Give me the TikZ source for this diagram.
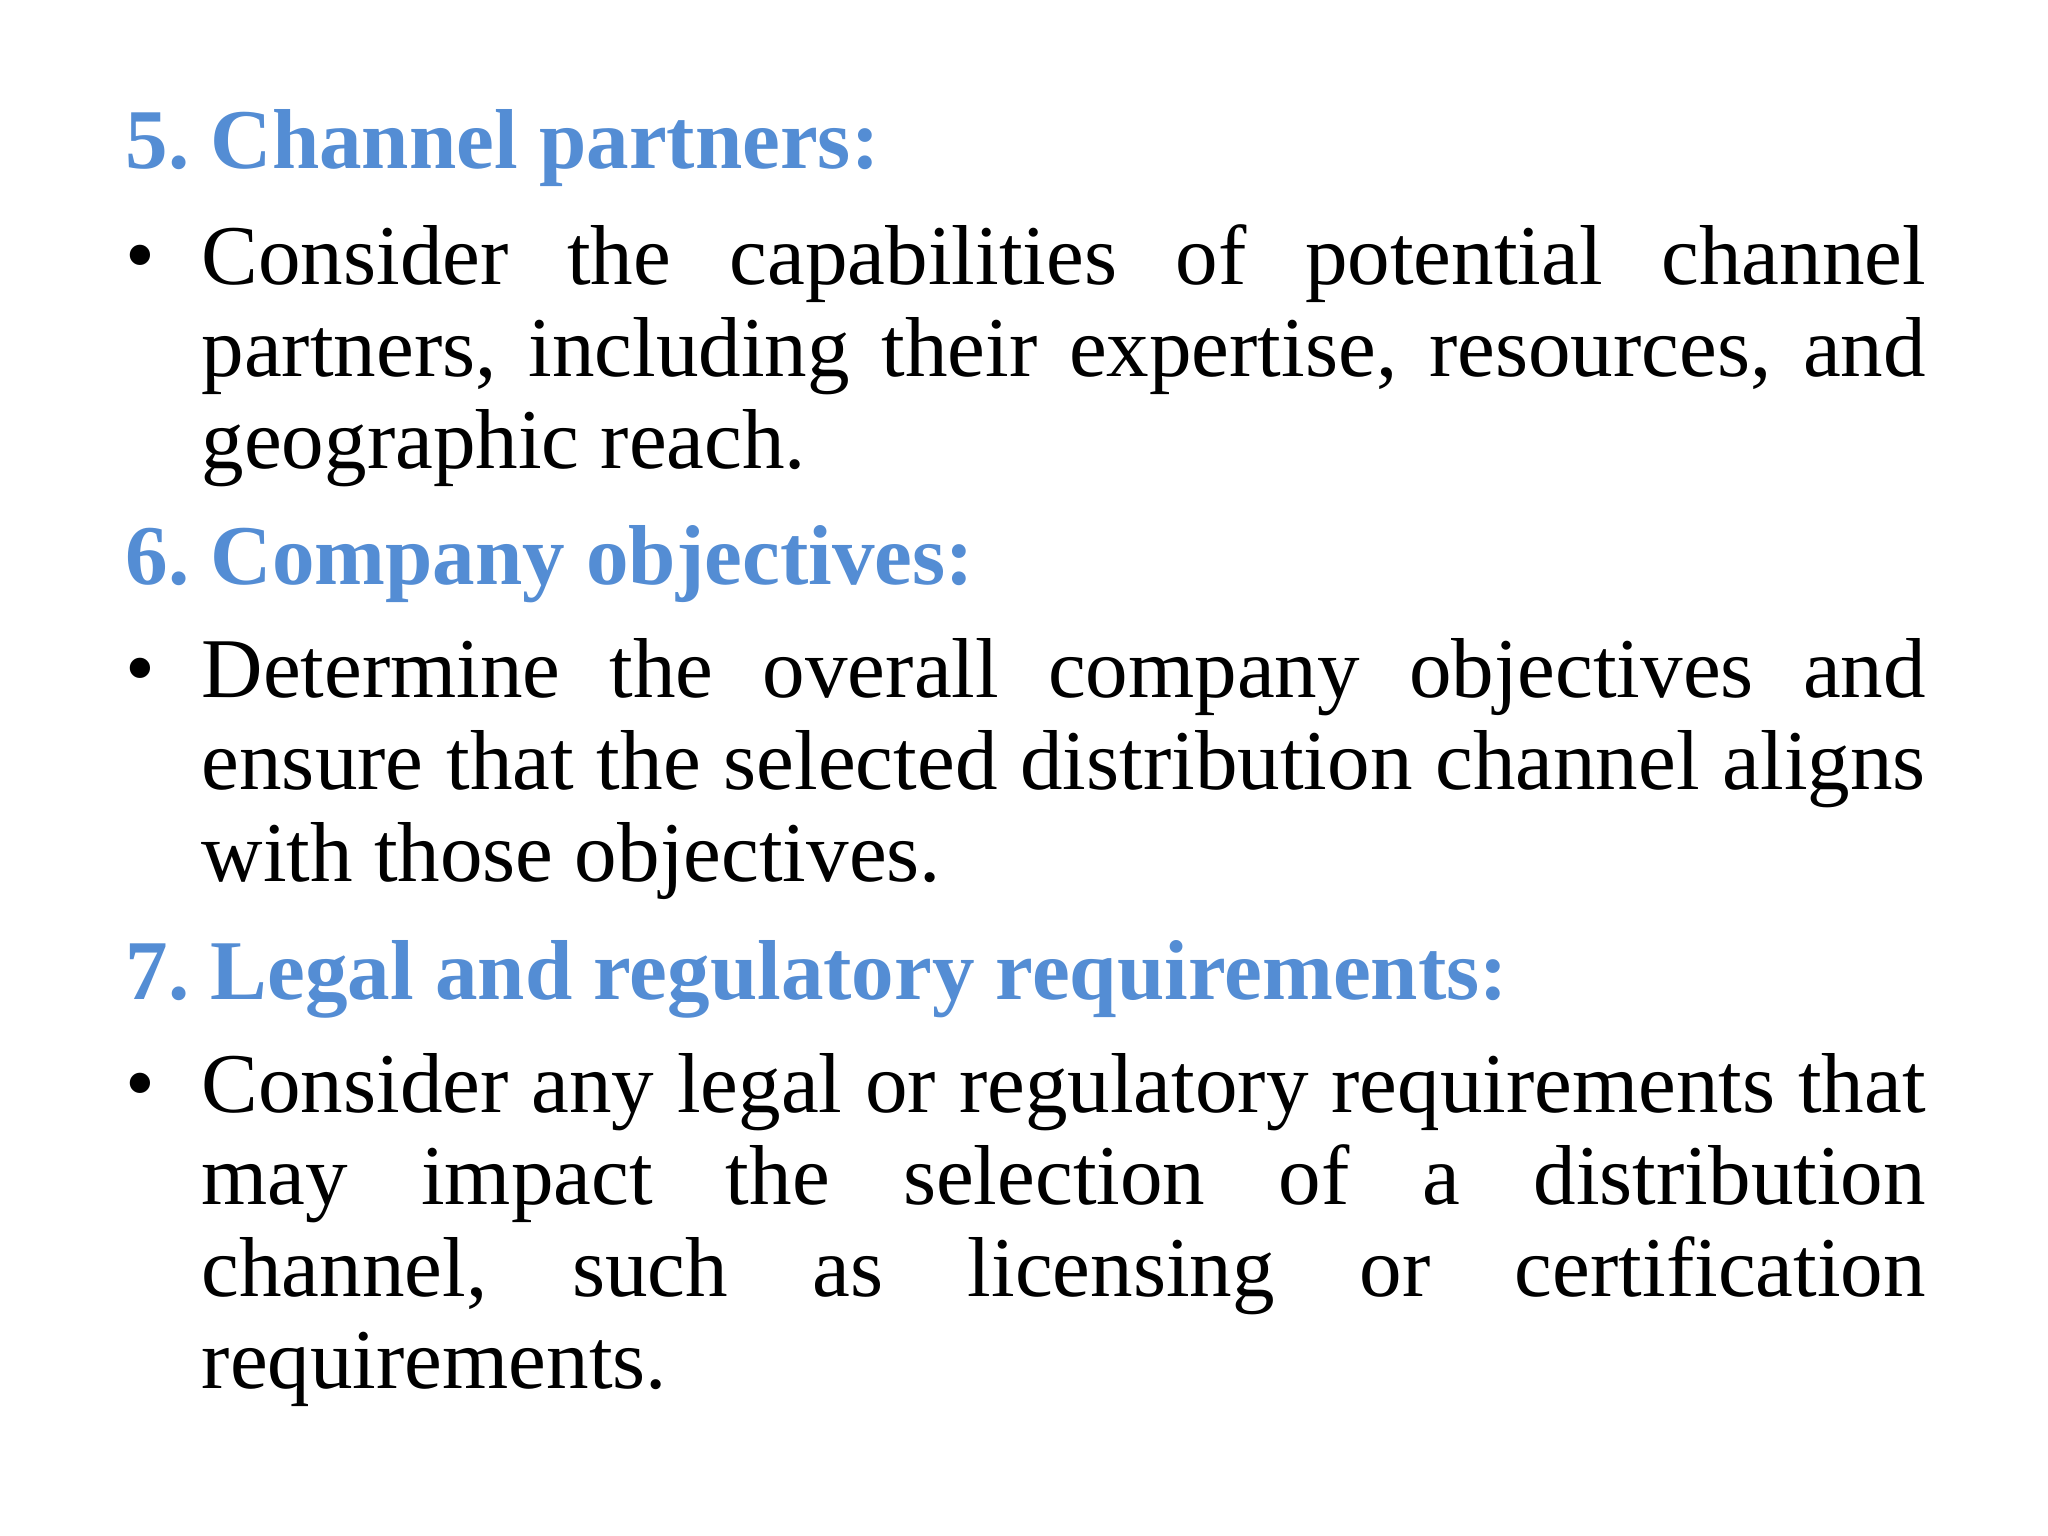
\documentclass[tikz,border=0pt]{standalone}
\usepackage{fontspec}
\setmainfont{Liberation Serif}
\hyphenpenalty=10000
\definecolor{headblue}{RGB}{84,141,212}
\tikzset{
  head/.style={anchor=base west,inner sep=0pt,text=headblue,font=\fontsize{24.2pt}{26.2pt}\selectfont\bfseries\frenchspacing},
  body/.style={anchor=north west,inner sep=0pt,text width=17.24cm,align=justify,font=\fontsize{24.2pt}{26.2pt}\selectfont\frenchspacing},
  bul/.style={anchor=base west,inner sep=0pt,font=\fontsize{24.2pt}{26.2pt}\selectfont}
}
\begin{document}
\begin{tikzpicture}
\useasboundingbox[fill=white] (0,0) rectangle (20.48,-15.36);
\node[head] (h5) at (1.25,-1.69) {5. Channel partners:};
\node[bul] (b5) at (1.25,-2.84) {•};
\node[body] (t5) at (2.01,{-2.84+0.7*0.922}) {\strut Consider the capabilities of potential channel\linebreak partners, including their expertise, resources, and\linebreak geographic reach.};
\node[head] (h6) at (1.25,-5.85) {6. Company objectives:};
\node[bul] (b6) at (1.25,-6.97) {•};
\node[body] (t6) at (2.01,{-6.97+0.7*0.922}) {\strut Determine the overall company objectives and\linebreak ensure that the selected distribution channel aligns\linebreak with those objectives.};
\node[head] (h7) at (1.25,-9.99) {7. Legal and regulatory requirements:};
\node[bul] (b7) at (1.25,-11.12) {•};
\node[body] (t7) at (2.01,{-11.12+0.7*0.922}) {\strut Consider any legal or regulatory requirements\hspace{0pt plus 0pt minus 5pt} that\linebreak may impact the selection of a distribution\linebreak channel, such as licensing or certification\linebreak requirements.};
\end{tikzpicture}
\end{document}
